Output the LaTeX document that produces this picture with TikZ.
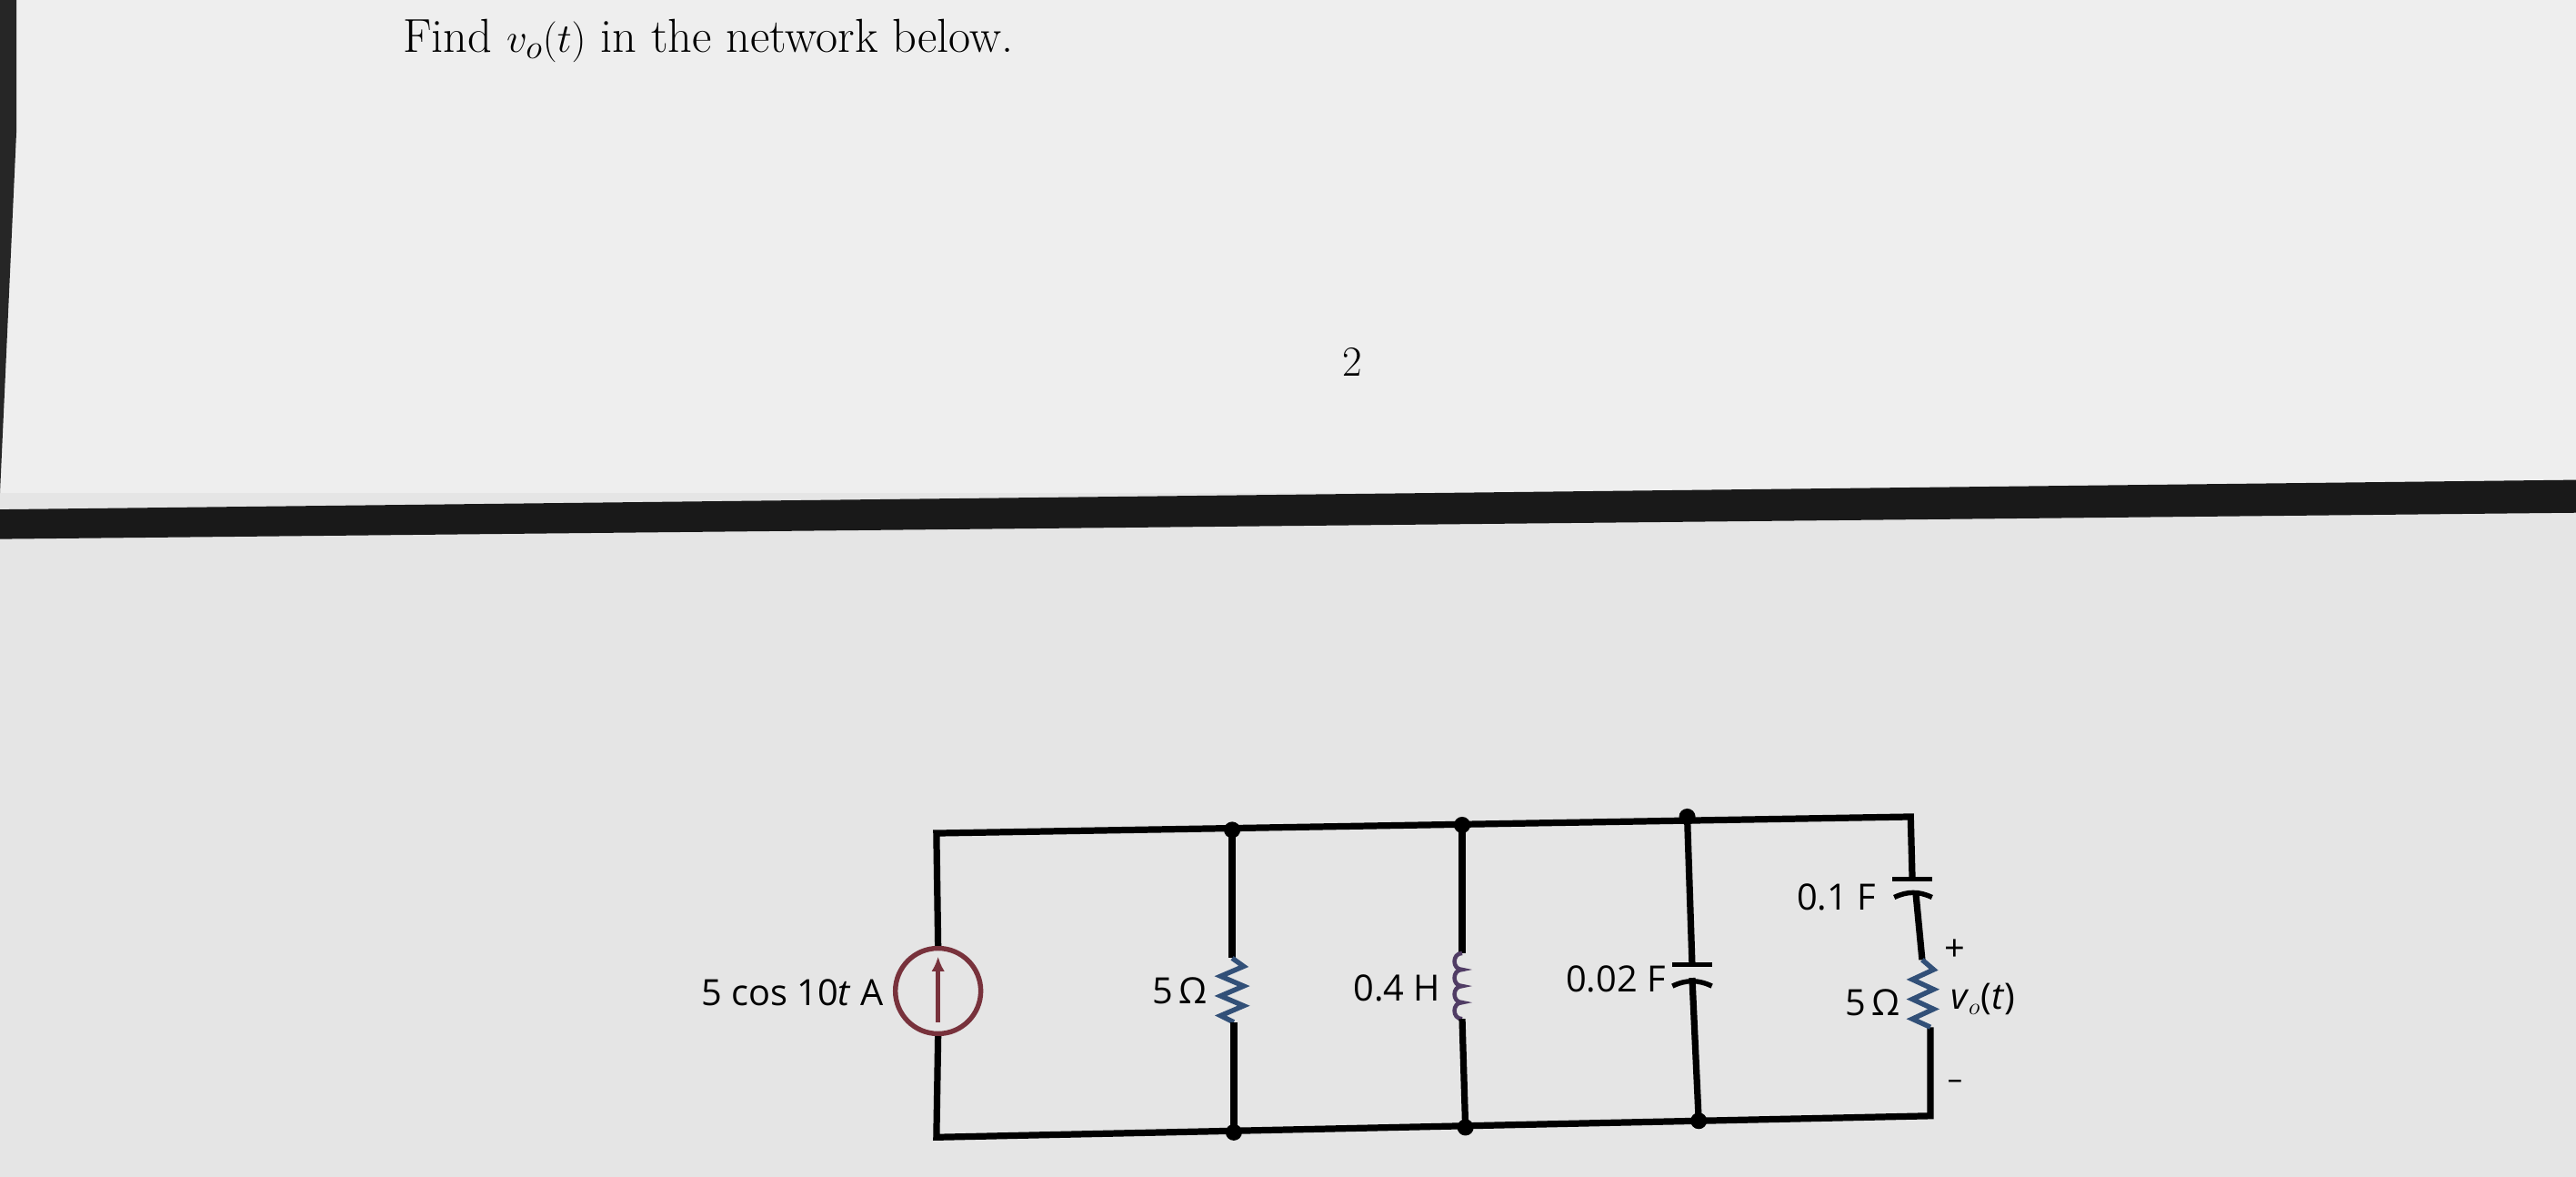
\documentclass[tikz,border=0pt]{standalone}
\usepackage{fontspec}
\usetikzlibrary{arrows.meta}
\newfontfamily\cktfont{Open Sans}
\definecolor{srccol}{RGB}{120,50,60}
\definecolor{rescol}{RGB}{50,80,120}
\definecolor{indcol}{RGB}{80,60,100}
\begin{document}
\begin{tikzpicture}[x=1pt,y=-1pt,
  wire/.style={line width=4pt,line join=miter},
  lab/.style={font=\cktfont\fontsize{22}{25}\selectfont,inner sep=0pt},
  dot/.style={circle,fill=black,inner sep=0pt,minimum size=10pt}]
\useasboundingbox (0,0) rectangle (1568,716);
\fill[gray!20] (0,0) rectangle (1568,716);
\fill[gray!13] (0,0) rectangle (1568,300);
\fill[black!90] (0,310) -- (1568,292) -- (1568,312) -- (0,328) -- cycle;
\fill[black!85] (0,0) -- (10,0) -- (10,80) -- (0,300) -- cycle;
\node[anchor=west,font=\fontsize{29}{32}\selectfont,inner sep=0pt] (title) at (245,25) {Find $v_o(t)$ in the network below.};
\node[font=\fontsize{26}{30}\selectfont] (pg) at (823,220) {2};
% coordinates
\coordinate (s1) at (570,507); \coordinate (s2) at (570,692);
\coordinate (r1) at (750,505); \coordinate (r2) at (751,689);
\coordinate (l1) at (890,502); \coordinate (l2) at (892,686);
\coordinate (c1) at (1027,497); \coordinate (c2) at (1034,682);
\coordinate (e1) at (1163,497); \coordinate (e2) at (1175,679);
% source
\node[circle,draw=srccol,line width=3pt,minimum size=52pt,inner sep=0pt] (src) at (571,603) {};
\draw[wire] (src.north) -- (s1) -- (e1) -- (1164,535);
\draw[wire] (src.south) -- (s2) -- (e2) -- (1175,625);
\draw[line width=2.5pt,srccol,-{Latex[length=9pt,width=8pt]}] (571,622) -- (571,582);
\node[lab,anchor=east] (srcl) at (538,604) {5 cos 10\textit{t} A};
% resistor
\draw[wire] (r1) -- (750,583);
\draw[line width=3pt,rescol] (750,583) -- (757,588) -- (743,594) -- (757,600) -- (743,606) -- (757,612) -- (743,618) -- (751,622);
\draw[wire] (751,622) -- (r2);
\node[lab,anchor=east] (rl) at (735,603) {5\,Ω};
% inductor
\draw[wire] (l1) -- (890,580);
\draw[line width=2.5pt,indcol] (890,580) to[out=180,in=180,looseness=1.6] (890,590) to[out=180,in=180,looseness=1.6] (890,600) to[out=180,in=180,looseness=1.6] (890,610) to[out=180,in=180,looseness=1.6] (890,620);
\draw[wire] (890,620) -- (l2);
\node[lab,anchor=east] (ll) at (877,601) {0.4 H};
% capacitor 0.02F
\draw[wire] (c1) -- (1030,587);
\draw[line width=3pt] (1018,587) -- (1042,587);
\draw[line width=3pt] (1018,600) to[bend left=25] (1042,600);
\draw[wire] (1030,595) -- (c2);
\node[lab,anchor=east] (cl) at (1014,596) {0.02 F};
% right branch
\draw[line width=3pt] (1152,535) -- (1176,535);
\draw[line width=3pt] (1153,546) to[bend left=25] (1176,546);
\draw[wire] (1166,542) -- (1170,584);
\draw[line width=3pt,rescol] (1170,584) -- (1177,590) -- (1164,596) -- (1177,602) -- (1164,608) -- (1177,614) -- (1164,620) -- (1175,625);
\node[lab,anchor=east] (cl2) at (1142,546) {0.1 F};
\node[lab,anchor=east] (rl2) at (1157,610) {5\,Ω};
\node[lab] (plus) at (1190,578) {+};
\node[lab] (minus) at (1190,660) {\fontsize{18}{20}\selectfont –};
\node[lab,anchor=west] (vo) at (1187,608) {\textit{v}$_o$(\textit{t})};
% dots
\foreach \p in {r1,r2,l1,l2,c1,c2} \node[dot] at (\p) {};
\end{tikzpicture}
\end{document}
